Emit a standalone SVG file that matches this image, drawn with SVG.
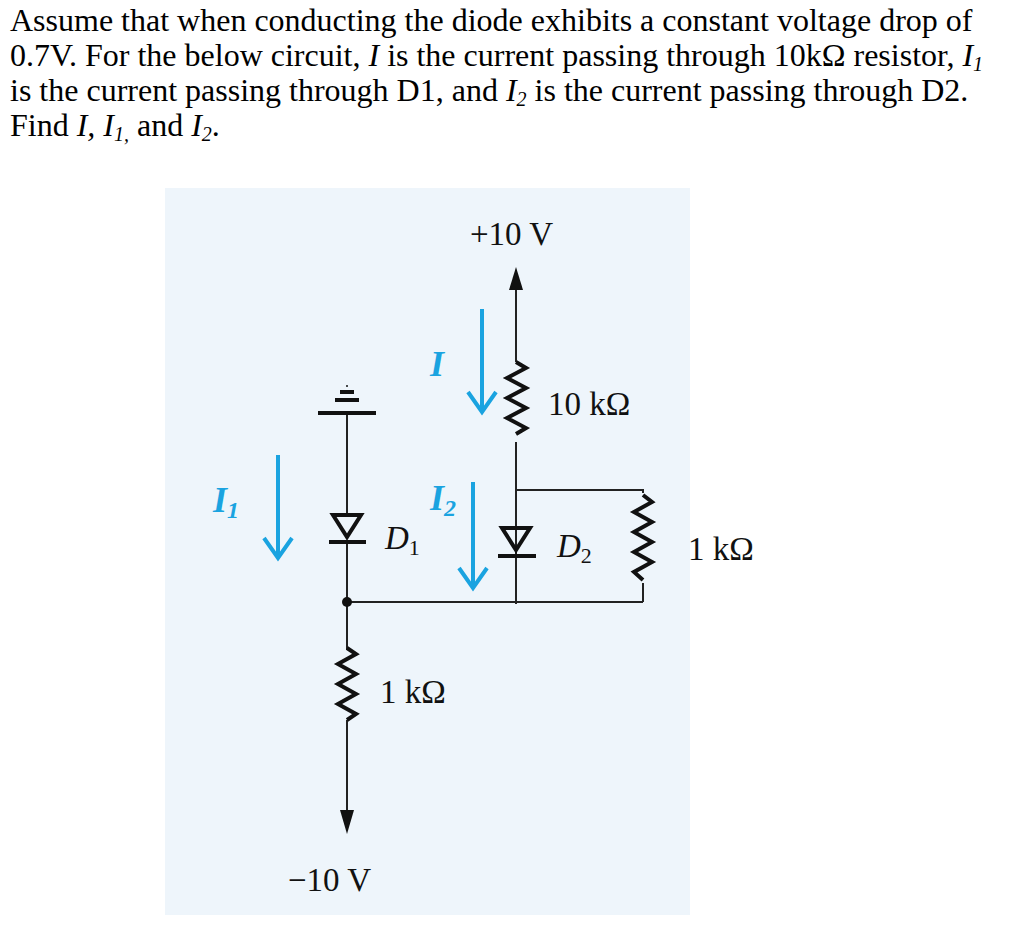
<svg xmlns="http://www.w3.org/2000/svg" width="1024" height="925" viewBox="0 0 1024 925">
<style>
.t{font-family:"Liberation Serif",serif;font-size:32px;fill:#000}
.c{font-family:"Liberation Serif",serif;font-size:33px;fill:#111}
.b{font-family:"Liberation Serif",serif;font-size:36px;font-style:italic;font-weight:bold;fill:#1aa3e0}
.w{stroke:#222;stroke-width:2;fill:none}
.r{stroke:#111;stroke-width:4;fill:none;stroke-linejoin:miter}
.ba{stroke:#1aa3e0;stroke-width:4;fill:none}
</style>
<defs>
<marker id="ba" markerWidth="8" markerHeight="8" refX="6" refY="4" orient="auto" markerUnits="strokeWidth"><path d="M1,0.5 L6,4 L1,7.5" fill="none" stroke="#1aa3e0" stroke-width="1"/></marker>
</defs>
<rect width="1024" height="925" fill="#fff"/>
<g id="question">
<text class="t" x="10" y="31">Assume that when conducting the diode exhibits a constant voltage drop of</text>
<text class="t" x="10" y="66">0.7V. For the below circuit, <tspan font-style="italic">I</tspan> is the current passing through 10kΩ resistor, <tspan font-style="italic">I<tspan font-size="20" dy="5">1</tspan></tspan></text>
<text class="t" x="10" y="101">is the current passing through D1, and <tspan font-style="italic">I<tspan font-size="20" dy="5">2</tspan></tspan><tspan dy="-5"> is the current passing through D2.</tspan></text>
<text class="t" x="10" y="136">Find <tspan font-style="italic">I, I<tspan font-size="20" dy="5">1,</tspan></tspan><tspan dy="-5"> and </tspan><tspan font-style="italic">I<tspan font-size="20" dy="5">2</tspan></tspan><tspan dy="-5">.</tspan></text>
</g>
<rect x="165" y="188" width="525" height="727" fill="#eef5fb"/>
<g id="connectors">
<path class="w" d="M516,285 V362 M516,442 V604 M516,490 H640 M643,493 V490 H640 M643,583 V602 M347,602 H643 M347,413 V513 M347,543 V650 M347,720 V812"/>
</g>
<g id="vplus"><path d="M516,267 L509,290 H523 Z" fill="#111"/><text class="c" x="470" y="245">+10 V</text></g>
<g id="r10k"><path class="r" d="M516,362 L526,368 L507,378 L526,388 L507,398 L526,408 L507,418 L526,428 L516,434"/><text class="c" x="548" y="415">10 kΩ</text></g>
<g id="ground"><path stroke="#111" stroke-width="4" d="M318,413 H376 M335,400 H359 M340,392 H354"/><circle cx="347" cy="386" r="1" fill="#111"/></g>
<g id="d1"><path d="M333,515 H361 L347,537 Z" fill="none" stroke="#111" stroke-width="4" stroke-linejoin="miter"/><path stroke="#111" stroke-width="4" d="M329,542 H366"/><text x="385" y="549" font-family="Liberation Serif,serif" font-size="33" font-style="italic" fill="#111">D<tspan font-style="normal" font-size="22" dy="6">1</tspan></text></g>
<g id="d2"><path d="M502,528 H530 L516,550 Z" fill="none" stroke="#111" stroke-width="4"/><path stroke="#111" stroke-width="4" d="M498,556 H536"/><text x="557" y="557" font-family="Liberation Serif,serif" font-size="33" font-style="italic" fill="#111">D<tspan font-style="normal" font-size="22" dy="6">2</tspan></text></g>
<g id="r1k-right"><path class="r" d="M643,495 L652,502 L634,512 L652,522 L634,532 L652,542 L634,552 L652,562 L634,572 L643,580"/><text class="c" x="688" y="560">1 kΩ</text></g>
<g id="junction"><circle cx="347" cy="602" r="5" fill="#111"/></g>
<g id="r1k-bottom"><path class="r" d="M347,648 L356,654 L338,664 L356,674 L338,684 L356,694 L338,704 L356,714 L347,720"/><text class="c" x="380" y="703">1 kΩ</text></g>
<g id="vminus"><path d="M347,834 L340,810 H354 Z" fill="#111"/><text class="c" x="288" y="891">−10 V</text></g>
<g id="currents">
<path class="ba" d="M482,309 V412" marker-end="url(#ba)"/><text class="b" x="430" y="376">I</text>
<path class="ba" d="M278,455 V558" marker-end="url(#ba)"/><text class="b" x="213" y="512">I<tspan font-size="24" dy="6">1</tspan></text>
<path class="ba" d="M473,482 V588" marker-end="url(#ba)"/><text class="b" x="430" y="510">I<tspan font-size="24" dy="6">2</tspan></text>
</g>
</svg>
